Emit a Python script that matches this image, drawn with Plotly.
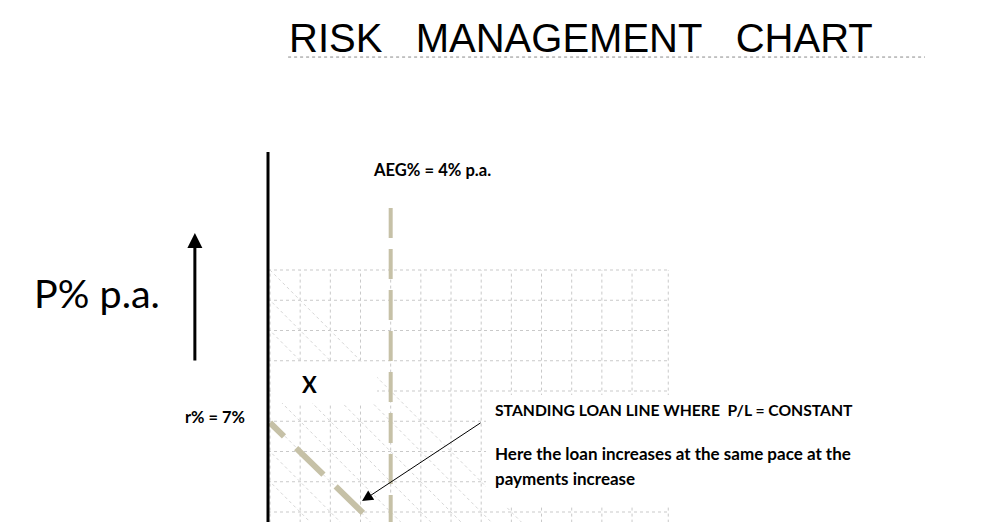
import plotly.graph_objects as go

# ---------------- data (diagram units: one grid cell = 1) ----------------
grid_cols = [0, 1, 2, 3, 4, 5, 6, 7, 8, 9, 10, 11, 12]
grid_rows = [0, 1, 2, 3, 4, 5, 6, 7, 8]
grid_right = 13.2
grid_bottom = -0.35
grid_left = -0.066
grid_top = 8.0

hatch_levels = [1, 2, 3, 4, 5, 6, 7, 8]          # standing-loan family u + v = c

aeg_value = 4.0                                    # AEG% = 4% p.a.
aeg_v = [10.05, -0.4]

axis_v = [11.9, -0.4]                              # vertical P% axis

loan_u = [3.08, 0.0]                               # standing loan line (r% = 7%)
loan_v = [-0.03, 2.95]

p_arrow_u = [-2.49, -2.49]
p_arrow_v = [4.96, 9.22]

note_arrow_u = [7.03, 3.05]
note_arrow_v = [2.98, 0.36]

title_text = "RISK\u00a0\u00a0\u00a0MANAGEMENT\u00a0\u00a0\u00a0CHART"
aeg_label = "AEG% = 4% p.a."
r_label = "r% = 7%"
y_label = "P% p.a."
x_mark = "X"
note_lines = ["STANDING LOAN LINE WHERE\u00a0 P/L = CONSTANT",
              "Here the loan increases at the same pace at the",
              "payments increase"]

# ---------------- figure ----------------
GRID = "#c9c9c9"
TAN = "#c6c1a7"
CAL = "Lato, 'Open Sans', sans-serif"

fig = go.Figure()

# grid (dotted)
for c in grid_cols + [grid_right]:
    fig.add_trace(go.Scatter(x=[c, c], y=[grid_bottom, grid_top], mode="lines",
                             line=dict(color=GRID, width=1, dash="dot"), hoverinfo="skip"))
for r in grid_rows:
    fig.add_trace(go.Scatter(x=[grid_left, grid_right], y=[r, r], mode="lines",
                             line=dict(color=GRID, width=1, dash="dot"), hoverinfo="skip"))

# hatch lines, clipped to the grid rectangle
for c in hatch_levels:
    u0 = max(grid_left, c - grid_top)
    u1 = min(grid_right, c - grid_bottom)
    fig.add_trace(go.Scatter(x=[u0, u1], y=[c - u0, c - u1], mode="lines",
                             line=dict(color="#d6d6d6", width=1, dash="dot"), hoverinfo="skip"))

# AEG vertical dashed line
fig.add_trace(go.Scatter(x=[aeg_value, aeg_value], y=aeg_v, mode="lines",
                         line=dict(color=TAN, width=4, dash="30px,11px"), hoverinfo="skip"))
# standing loan dashed line
fig.add_trace(go.Scatter(x=loan_u, y=loan_v, mode="lines",
                         line=dict(color=TAN, width=6, dash="38px,17px"), hoverinfo="skip"))
# black axis
fig.add_trace(go.Scatter(x=[grid_left, grid_left], y=axis_v, mode="lines",
                         line=dict(color="black", width=3), hoverinfo="skip"))

# white boxes behind labels
fig.add_shape(type="rect", x0=0.07, x1=3.55, y0=3.6, y1=4.96, layer="above",
              fillcolor="white", line=dict(width=0))
fig.add_shape(type="rect", x0=7.16, x1=19.62, y0=0.17, y1=3.87, layer="above",
              fillcolor="white", line=dict(width=0))

# title underline
fig.add_shape(type="line", x0=0.6, x1=21.71, y0=15.04, y1=15.04, layer="above",
              line=dict(color="#8a8a8a", width=1, dash="dot"))

def txt(x, y, s, size, bold=False, family=CAL):
    fig.add_annotation(x=x, y=y, text=(f"<b>{s}</b>" if bold else s), showarrow=False,
                       xanchor="left", yanchor="middle",
                       font=dict(family=family, size=size, color="black"))

txt(0.55, 15.67, title_text, 40, family="'Liberation Sans', Arial, sans-serif")
txt(3.36, 11.31, aeg_label, 16.6, bold=True)
txt(-2.9, 3.17, r_label, 16.4, bold=True)
txt(0.98, 4.2, x_mark, 22, bold=True)
txt(-7.9, 7.27, y_label, 39.5)
txt(7.4, 3.37, note_lines[0], 15.7, bold=True)
txt(7.4, 1.95, note_lines[1], 17.0, bold=True)
txt(7.4, 1.12, note_lines[2], 17.0, bold=True)

# arrows
fig.add_annotation(x=p_arrow_u[1], y=p_arrow_v[1], ax=p_arrow_u[0], ay=p_arrow_v[0],
                   axref="x", ayref="y", xref="x", yref="y", text="", showarrow=True,
                   arrowhead=2, arrowsize=1, arrowwidth=3, arrowcolor="black")
fig.add_annotation(x=note_arrow_u[1], y=note_arrow_v[1], ax=note_arrow_u[0], ay=note_arrow_v[0],
                   axref="x", ayref="y", xref="x", yref="y", text="", showarrow=True,
                   arrowhead=2, arrowsize=2.2, arrowwidth=1, arrowcolor="black")

fig.update_layout(
    width=994, height=522, margin=dict(l=0, r=0, t=0, b=0),
    paper_bgcolor="white", plot_bgcolor="white", showlegend=False,
    xaxis=dict(range=[-8.949, 23.997], visible=False, fixedrange=True),
    yaxis=dict(range=[-0.3306, 16.926], visible=False, fixedrange=True),
)

fig.write_html("out.html", config={"displayModeBar": False},
               post_script="document.body.style.margin='0px';document.body.style.overflow='hidden';")
